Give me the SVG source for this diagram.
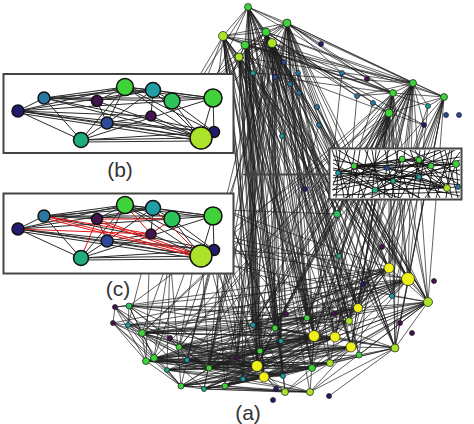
<svg xmlns="http://www.w3.org/2000/svg" width="474" height="424" viewBox="0 0 474 424">
<defs>
<style>
.e{fill:none;stroke:#1e1e1e;stroke-width:.7}
.pe{fill:none;stroke:#2a2a2a;stroke-width:1}
.re{fill:none;stroke:#e01818;stroke-width:1}
.ie{fill:none;stroke:#111;stroke-width:.9}
.n{stroke:#1a1a1a;stroke-width:.7}
.pn{stroke:#111;stroke-width:1.5}
.Y{fill:#eef21a}.YG{fill:#abe22a}.G{fill:#40d23a}.G2{fill:#2cc45a}.TG{fill:#1fac7e}.T{fill:#1f9ea6}.TB{fill:#2a78a0}.B{fill:#2c4a98}.N{fill:#211d6c}.P{fill:#45134f}
.frame{fill:#fff;stroke:#444;stroke-width:2}
.lbl{font-family:"Liberation Sans",Arial,sans-serif;font-size:21px;fill:#333;text-anchor:middle}
</style>
<clipPath id="ic"><rect x="331" y="150" width="129" height="48"/></clipPath>
</defs>
<rect width="474" height="424" fill="#fff"/>
<g id="connectors">
<path class="e" d="M248 7L223 36M248 7L266 32M248 7L287 23M248 7L245 45M248 7L272 43M223 36L266 32M223 36L287 23M223 36L245 45M223 36L272 43M223 36L239 57M266 32L287 23M266 32L245 45M266 32L272 43M266 32L239 57M287 23L272 43M287 23L245 45M287 23L239 57M245 45L272 43M245 45L239 57M272 43L239 57"/>
<path class="e" d="M248 7L190 95M248 7L205 100M223 36L185 100M223 36L200 95M223 36L215 110M239 57L195 95M245 45L215 110M266 32L205 100M272 43L225 90M287 23L200 100M239 57L225 95M223 36L228 95M245 45L190 100M266 32L185 110"/>
<path class="e" d="M287 23L321 44M287 23L413 83M287 23L393 93M266 32L413 83M272 43L393 93M266 32L389 113M245 45L413 83M223 36L393 93M272 43L444 97M287 23L444 97M239 57L389 113M245 45L342 73M272 43L357 96M287 23L367 79M266 32L373 103M223 36L428 106M272 43L424 125M248 7L413 83M248 7L393 93M239 57L253 73M245 45L284 62M272 43L298 73M266 32L275 77M287 23L290 84M272 43L299 93M287 23L317 107M266 32L319 125M245 45L282 136M223 36L282 136M223 36L253 73M248 7L284 62M287 23L342 73M266 32L357 96M253 73L413 83M275 77L393 93M239 57L413 83M245 45L393 93M223 36L413 83M266 32L444 97"/>
<path class="e" d="M248 7L253 325M248 7L275 328M248 7L307 318M248 7L314 336M248 7L257 366M248 7L358 308M248 7L389 268M248 7L351 347M248 7L285 392M248 7L312 368M248 7L337 214M248 7L339 256M248 7L408 279M248 7L260 351M248 7L428 302M248 7L395 348M248 7L237 358"/>
<path class="e" d="M223 36L253 325M223 36L286 314M223 36L281 341M223 36L257 366M223 36L283 376M223 36L314 336M223 36L260 351M223 36L307 318M223 36L389 268M223 36L330 363M223 36L264 377M223 36L337 214M223 36L305 189M223 36L275 328M223 36L408 279M223 36L358 308"/>
<path class="e" d="M266 32L275 328M266 32L286 314M266 32L307 318M266 32L314 336M266 32L335 337M266 32L349 321M266 32L358 308M266 32L334 314M266 32L363 284M266 32L408 279M266 32L392 296M266 32L428 302M266 32L257 366M266 32L283 376M266 32L339 256M266 32L237 358M266 32L209 368M266 32L181 386M266 32L243 379M266 32L395 348"/>
<path class="e" d="M287 23L307 318M287 23L314 336M287 23L335 337M287 23L351 347M287 23L359 355M287 23L349 321M287 23L358 308M287 23L389 268M287 23L408 279M287 23L428 302M287 23L395 348M287 23L330 363M287 23L312 368M287 23L281 341M287 23L253 325M287 23L209 368M287 23L179 347M287 23L237 358M287 23L225 386M287 23L392 296"/>
<path class="e" d="M245 45L253 325M245 45L275 328M245 45L281 341M245 45L260 351M245 45L257 366M245 45L264 377M245 45L283 376M245 45L314 336M245 45L307 318M245 45L312 368M245 45L310 392M245 45L389 268M245 45L339 256M245 45L285 392M245 45L408 279M245 45L358 308M245 45L395 348M245 45L351 347"/>
<path class="e" d="M272 43L275 328M272 43L286 314M272 43L307 318M272 43L314 336M272 43L335 337M272 43L351 347M272 43L349 321M272 43L358 308M272 43L389 268M272 43L408 279M272 43L392 296M272 43L428 302M272 43L359 355M272 43L281 341M272 43L337 214M272 43L187 360M272 43L237 358M272 43L204 389M272 43L395 348"/>
<path class="e" d="M239 57L253 325M239 57L260 351M239 57L257 366M239 57L243 379M239 57L281 341M239 57L314 336M239 57L307 318M239 57L312 368M239 57L264 377M239 57L275 328M239 57L283 376M239 57L335 337M239 57L358 308M239 57L389 268M239 57L349 321M239 57L428 302"/>
<path class="e" d="M253 73L253 325M253 73L257 366M253 73L314 336M284 62L307 318M284 62L358 308M298 73L389 268M298 73L408 279M275 77L275 328M275 77L351 347M290 84L349 321M299 93L314 336M317 107L408 279M317 107L428 302M319 125L395 348M282 136L257 366M342 73L314 336M357 96L335 337M373 103L307 318M319 125L260 351M282 136L389 268"/>
<path class="e" d="M413 83L393 93M413 83L444 97M413 83L389 113M393 93L389 113M444 97L389 113M393 93L444 97M413 83L428 106M444 97L428 106M389 113L373 103M393 93L357 96M389 113L424 125M413 83L424 125M393 93L342 73M413 83L357 96"/>
<path class="e" d="M413 83L389 268M413 83L408 279M413 83L428 302M413 83L358 308M413 83L395 348M413 83L349 321M413 83L314 336M413 83L351 347M413 83L307 318M413 83L392 296M413 83L337 214M413 83L339 256M413 83L335 337M413 83L179 347M413 83L187 360M413 83L253 325M413 83L260 351M413 83L275 328M413 83L142 333"/>
<path class="e" d="M393 93L389 268M393 93L408 279M393 93L358 308M393 93L349 321M393 93L314 336M393 93L307 318M393 93L351 347M393 93L395 348M393 93L428 302M393 93L275 328M393 93L335 337M393 93L359 355M393 93L142 333M393 93L215 250M393 93L253 325M393 93L257 366M393 93L179 347"/>
<path class="e" d="M444 97L428 302M444 97L408 279M444 97L395 348M444 97L389 268M444 97L392 296M444 97L358 308M444 97L400 323M444 97L314 336M444 97L351 347M444 97L349 321M444 97L209 368M424 125L389 268M428 106L408 279M428 106L358 308M424 125L349 321"/>
<path class="e" d="M389 113L389 268M389 113L408 279M389 113L358 308M389 113L314 336M389 113L307 318M389 113L351 347M389 113L349 321M389 113L395 348M389 113L335 337M389 113L428 302M389 113L257 366M389 113L275 328M389 113L337 214M389 113L339 256M389 113L312 368M389 113L129 306M389 113L154 358M389 113L209 368M389 113L253 325M389 113L237 358"/>
<path class="e" d="M200 230L179 347M200 230L209 368M200 230L237 358M200 230L257 366M215 250L187 360M215 250L260 351M215 250L243 379M215 250L225 386M170 255L142 333M170 255L154 358M170 255L167 370M170 255L181 386M225 210L253 325M225 210L275 328M225 210L209 368M150 240L128 325M150 240L146 361M230 265L237 358M230 265L264 377M230 265L204 389M215 250L257 366M200 230L154 358M225 210L281 341M230 265L283 376M215 250L408 279M225 210L389 268M230 265L428 302M200 230L363 284M225 210L337 214M215 250L339 256M230 265L358 308M225 210L392 296M200 230L408 279M220 240L349 321M210 220L314 336"/>
<path class="e" d="M408 279L129 306M408 279L128 325M408 279L142 333M408 279L253 325M408 279L275 328M408 279L286 314M408 279L307 318M408 279L260 351M408 279L314 336M408 279L351 347M408 279L312 368M408 279L428 302M408 279L395 348M408 279L358 308M408 279L392 296M408 279L349 321M408 279L154 358M408 279L209 368"/>
<path class="e" d="M389 268L115 307M389 268L113 323M389 268L142 333M389 268L179 347M389 268L253 325M389 268L286 314M389 268L307 318M389 268L314 336M389 268L335 337M389 268L358 308M389 268L334 314M389 268L260 351M389 268L281 341M389 268L187 360M389 268L349 321M389 268L428 302M389 268L392 296"/>
<path class="e" d="M428 302L359 355M428 302L351 347M428 302L395 348M428 302L312 368M428 302L314 336M428 302L335 337M428 302L330 363M428 302L310 392M428 302L307 318M428 302L275 328M428 302L257 366M428 302L392 296M428 302L358 308M428 302L264 377"/>
<path class="e" d="M358 308L253 325M358 308L275 328M358 308L307 318M358 308L179 347M358 308L187 360M358 308L209 368M358 308L142 333M358 308L314 336M358 308L129 306"/>
<path class="e" d="M314 336L142 333M314 336L179 347M314 336L146 361M314 336L154 358M314 336L187 360M314 336L167 370M314 336L209 368M314 336L237 358M314 336L253 325M314 336L275 328M314 336L281 341M314 336L260 351M314 336L257 366M314 336L264 377M314 336L243 379M314 336L181 386M314 336L204 389M314 336L225 386M314 336L312 368M314 336L310 392M314 336L283 376M314 336L128 325"/>
<path class="e" d="M335 337L179 347M335 337L154 358M335 337L209 368M335 337L253 325M335 337L260 351M335 337L257 366M335 337L264 377M335 337L243 379M335 337L225 386M335 337L204 389M335 337L330 363M335 337L142 333"/>
<path class="e" d="M351 347L146 361M351 347L187 360M351 347L209 368M351 347L281 341M351 347L257 366M351 347L264 377M351 347L181 386M351 347L225 386M351 347L312 368M351 347L310 392M351 347L330 363M351 347L167 370"/>
<path class="e" d="M257 366L129 306M257 366L128 325M257 366L142 333M257 366L179 347M257 366L146 361M257 366L154 358M257 366L187 360M257 366L167 370M257 366L209 368M257 366L237 358M257 366L181 386M257 366L204 389M257 366L225 386M257 366L243 379M257 366L285 392M257 366L276 389M257 366L275 328M257 366L260 351"/>
<path class="e" d="M264 377L142 333M264 377L146 361M264 377L154 358M264 377L187 360M264 377L167 370M264 377L209 368M264 377L181 386M264 377L204 389M264 377L225 386M264 377L285 392M264 377L310 392M264 377L312 368"/>
<path class="e" d="M395 348L351 347M395 348L359 355M395 348L330 363M395 348L312 368M395 348L310 392M395 348L329 396M395 348L335 337M395 348L314 336M395 348L307 318M395 348L275 328M349 321L142 333M349 321L154 358M349 321L209 368M349 321L253 325M349 321L257 366M349 321L264 377M349 321L307 318M349 321L314 336M307 318L129 306M307 318L128 325M307 318L179 347M307 318L154 358M307 318L209 368M307 318L253 325"/>
<path class="e" d="M312 368L181 386M312 368L204 389M312 368L225 386M312 368L285 392M312 368L146 361M312 368L167 370M310 392L204 389M310 392L225 386M310 392L285 392M310 392L181 386M310 392L167 370M330 363L181 386M330 363L243 379M330 363L167 370M330 363L146 361M359 355L204 389M359 355L225 386M359 355L146 361"/>
<path class="e" d="M115 307L129 306M115 307L113 323M115 307L146 361M129 306L128 325M129 306L142 333M113 323L128 325M113 323L146 361M113 323L154 358M128 325L142 333M142 333L146 361M142 333L154 358M142 333L179 347M146 361L154 358M146 361L181 386M154 358L181 386M154 358L167 370M167 370L181 386M181 386L204 389M204 389L225 386M225 386L243 379M146 361L209 368M154 358L209 368M179 347L209 368M187 360L209 368M179 347L187 360M129 306L179 347M115 307L181 386M113 323L181 386M115 307L204 389"/>
<path class="e" d="M142 333L253 325M142 333L275 328M146 361L257 366M154 358L243 379M179 347L253 325M179 347L260 351M187 360L257 366M167 370L243 379M181 386L243 379M204 389L264 377M209 368L260 351M209 368L281 341M237 358L281 341M237 358L314 336M237 358L335 337M243 379L283 376M253 325L286 314M253 325L281 341M260 351L283 376M260 351L314 336M275 328L314 336M281 341L335 337M283 376L330 363M285 392L330 363M129 306L253 325M128 325L260 351M113 323L209 368M115 307L179 347M129 306L209 368M142 333L237 358M146 361L237 358M154 358L260 351M167 370L260 351M181 386L257 366M204 389L257 366M179 347L283 376M187 360L283 376M209 368L283 376M209 368L312 368M187 360L312 368M179 347L312 368M154 358L312 368M142 333L307 318M129 306L286 314M128 325L286 314M146 361L275 328M167 370L275 328M181 386L275 328M204 389L281 341M225 386L281 341M225 386L312 368M243 379L312 368M237 358L312 368M253 325L312 368M142 333L335 337M154 358L351 347M179 347L351 347M209 368L351 347M187 360L335 337M167 370L330 363M146 361L330 363M181 386L310 392M204 389L285 392M225 386L285 392M243 379L310 392M113 323L142 333M128 325L154 358M129 306L154 358M115 307L142 333M181 386L209 368M167 370L209 368M142 333L187 360M142 333L209 368"/>
</g>
<g id="main-nodes" class="n">
<g id="t1"><circle class="G" cx="248" cy="7" r="3.5"/></g>
<g id="t2"><circle class="YG" cx="223" cy="36" r="4.5"/></g>
<g id="t3"><circle class="G" cx="266" cy="32" r="4"/></g>
<g id="t4"><circle class="G" cx="287" cy="23" r="4"/></g>
<g id="t5"><circle class="G" cx="245" cy="45" r="4"/></g>
<g id="t6"><circle class="YG" cx="272" cy="43" r="4.5"/></g>
<g id="t7"><circle class="YG" cx="239" cy="57" r="4"/></g>
<g id="m1"><circle class="T" cx="253" cy="73" r="2.5"/></g>
<g id="m2"><circle class="B" cx="284" cy="62" r="2.5"/></g>
<g id="m3"><circle class="TB" cx="298" cy="73" r="2.5"/></g>
<g id="m4"><circle class="B" cx="275" cy="77" r="2.5"/></g>
<g id="m5"><circle class="TB" cx="290" cy="84" r="2.5"/></g>
<g id="m6"><circle class="TB" cx="299" cy="93" r="2.5"/></g>
<g id="m7"><circle class="TB" cx="317" cy="107" r="2.5"/></g>
<g id="m8"><circle class="TB" cx="319" cy="125" r="2.5"/></g>
<g id="m9"><circle class="T" cx="282" cy="136" r="2.5"/></g>
<g id="m10"><circle class="N" cx="321" cy="44" r="2.5"/></g>
<g id="m11"><circle class="TB" cx="342" cy="73" r="2.5"/></g>
<g id="m12"><circle class="P" cx="367" cy="79" r="2.5"/></g>
<g id="m13"><circle class="TB" cx="357" cy="96" r="2.5"/></g>
<g id="m14"><circle class="TB" cx="373" cy="103" r="2.5"/></g>
<g id="m15"><circle class="T" cx="428" cy="106" r="2.5"/></g>
<g id="m16"><circle class="B" cx="446" cy="115" r="2.5"/></g>
<g id="m17"><circle class="B" cx="459" cy="115" r="2.5"/></g>
<g id="m18"><circle class="N" cx="424" cy="125" r="2.5"/></g>
<g id="r1"><circle class="G" cx="413" cy="83" r="3.5"/></g>
<g id="r2"><circle class="G" cx="393" cy="93" r="3.5"/></g>
<g id="r3"><circle class="G" cx="444" cy="97" r="3.5"/></g>
<g id="r4"><circle class="G" cx="389" cy="113" r="4"/></g>
<g id="b1"><circle class="P" cx="115" cy="307" r="2.5"/></g>
<g id="b2"><circle class="G2" cx="129" cy="306" r="3"/></g>
<g id="b3"><circle class="P" cx="113" cy="323" r="2.5"/></g>
<g id="b4"><circle class="T" cx="128" cy="325" r="2.5"/></g>
<g id="b5"><circle class="G" cx="142" cy="333" r="3.5"/></g>
<g id="b6"><circle class="P" cx="170" cy="338" r="2.5"/></g>
<g id="b7"><circle class="G" cx="179" cy="347" r="3"/></g>
<g id="b8"><circle class="G" cx="146" cy="361" r="3.5"/></g>
<g id="b9"><circle class="G" cx="154" cy="358" r="3.5"/></g>
<g id="b10"><circle class="T" cx="187" cy="360" r="2.5"/></g>
<g id="b11"><circle class="TG" cx="167" cy="370" r="2.5"/></g>
<g id="b12"><circle class="G" cx="209" cy="368" r="3"/></g>
<g id="b13"><circle class="P" cx="237" cy="358" r="2.5"/></g>
<g id="b14"><circle class="T" cx="253" cy="325" r="2.5"/></g>
<g id="b15"><circle class="G" cx="275" cy="328" r="3"/></g>
<g id="b16"><circle class="P" cx="286" cy="314" r="2.5"/></g>
<g id="b17"><circle class="T" cx="281" cy="341" r="2.5"/></g>
<g id="b18"><circle class="G" cx="260" cy="351" r="3"/></g>
<g id="b19"><circle class="Y" cx="257" cy="366" r="5.5"/></g>
<g id="b20"><circle class="Y" cx="264" cy="377" r="5"/></g>
<g id="b21"><circle class="T" cx="243" cy="379" r="2.5"/></g>
<g id="b22"><circle class="T" cx="283" cy="376" r="2.5"/></g>
<g id="b23"><circle class="G" cx="181" cy="386" r="3"/></g>
<g id="b24"><circle class="TG" cx="204" cy="389" r="2.5"/></g>
<g id="b25"><circle class="G" cx="225" cy="386" r="3"/></g>
<g id="b26"><circle class="YG" cx="285" cy="392" r="3.5"/></g>
<g id="b27"><circle class="N" cx="276" cy="389" r="2.5"/></g>
<g id="b28"><circle class="N" cx="273" cy="400" r="2.5"/></g>
<g id="b29"><circle class="G" cx="307" cy="318" r="3"/></g>
<g id="b31"><circle class="Y" cx="314" cy="336" r="5.5"/></g>
<g id="b32"><circle class="Y" cx="335" cy="337" r="5"/></g>
<g id="b33"><circle class="Y" cx="351" cy="347" r="5"/></g>
<g id="b34"><circle class="G" cx="359" cy="355" r="3"/></g>
<g id="b35"><circle class="YG" cx="330" cy="363" r="3.5"/></g>
<g id="b36"><circle class="G" cx="312" cy="368" r="3.5"/></g>
<g id="b37"><circle class="YG" cx="310" cy="392" r="3.5"/></g>
<g id="b38"><circle class="N" cx="329" cy="396" r="2.5"/></g>
<g id="b39"><circle class="YG" cx="349" cy="321" r="3.5"/></g>
<g id="b40"><circle class="Y" cx="358" cy="308" r="4.5"/></g>
<g id="b41"><circle class="P" cx="334" cy="314" r="2.5"/></g>
<g id="b42"><circle class="N" cx="363" cy="284" r="2.5"/></g>
<g id="b43"><circle class="Y" cx="389" cy="268" r="5"/></g>
<g id="b44"><circle class="Y" cx="408" cy="279" r="6.5"/></g>
<g id="b45"><circle class="P" cx="434" cy="281" r="2.5"/></g>
<g id="b46"><circle class="T" cx="392" cy="296" r="2.5"/></g>
<g id="b47"><circle class="YG" cx="428" cy="302" r="4.5"/></g>
<g id="b48"><circle class="P" cx="400" cy="323" r="2.5"/></g>
<g id="b49"><circle class="P" cx="412" cy="333" r="2.5"/></g>
<g id="b50"><circle class="YG" cx="395" cy="348" r="4"/></g>
<g id="b51"><circle class="P" cx="382" cy="247" r="2.5"/></g>
<g id="b52"><circle class="TG" cx="339" cy="256" r="2.5"/></g>
<g id="b53"><circle class="G2" cx="337" cy="214" r="3.5"/></g>
<g id="b54"><circle class="N" cx="305" cy="189" r="2.5"/></g>
</g>
<g id="panel-b">
<rect class="frame" x="3.5" y="74" width="230" height="79"/>
<path class="pe" d="M18 111L44 98M18 111L81 140M18 111L125 87M18 111L107 123M18 111L201 138M18 113L201 141M18 111L172 101M18 111L151 116M18 111L214 132M18 111L153 90M44 98L125 87M44 100L125 89M44 98L153 90M44 98L172 101M44 98L213 98M44 98L201 138M44 98L81 140M44 98L97 101M44 98L214 132M97 101L125 87M97 101L201 138M97 101L107 123M97 101L153 90M125 87L153 90M125 87L172 101M125 87L213 98M127 89L213 100M125 87L201 138M125 87L81 140M125 87L107 123M125 87L214 132M153 90L172 101M153 90L213 98M153 90L201 138M153 90L107 123M153 90L151 116M172 101L213 98M172 101L201 138M172 101L214 132M213 98L201 138M213 98L214 132M151 116L201 138M151 116L107 123M107 123L201 138M107 123L81 140M107 123L214 132M81 140L201 138M81 142L201 141M81 140L214 132M81 140L213 98"/>
<g class="pn">
<g id="b-n1"><circle class="N" cx="18" cy="111" r="6"/></g>
<g id="b-n2"><circle class="TB" cx="44" cy="98" r="6"/></g>
<g id="b-n3"><circle class="P" cx="97" cy="101" r="5.5"/></g>
<g id="b-n4"><circle class="G" cx="125" cy="87" r="8.5"/></g>
<g id="b-n5"><circle class="T" cx="153" cy="90" r="7.5"/></g>
<g id="b-n6"><circle class="G2" cx="172" cy="101" r="8"/></g>
<g id="b-n7"><circle class="G" cx="213" cy="98" r="9"/></g>
<g id="b-n8"><circle class="P" cx="151" cy="116" r="5"/></g>
<g id="b-n9"><circle class="B" cx="107" cy="123" r="6"/></g>
<g id="b-n10"><circle class="TG" cx="81" cy="140" r="7.5"/></g>
<g id="b-n11"><circle class="N" cx="214" cy="132" r="5.5"/></g>
<g id="b-n12"><circle class="YG" cx="201" cy="138" r="11"/></g>
</g>
</g>
<g id="panel-c">
<rect class="frame" x="3.5" y="193.5" width="230" height="80"/>
<path class="pe" d="M18 229L44 216M18 229L81 258M18 229L125 205M18 229L107 241M18 229L201 256M18 231L201 259M18 229L172 219M18 229L214 250M18 229L153 208M44 216L125 205M44 218L125 207M44 216L153 208M44 216L172 219M44 216L213 216M44 216L81 258M44 216L97 219M44 216L214 250M97 219L125 205M97 219L107 241M97 219L153 208M125 205L153 208M125 205L172 219M125 205L213 216M127 207L213 218M125 205L201 256M125 205L81 258M125 205L107 241M125 205L214 250M153 208L172 219M153 208L213 216M153 208L107 241M153 208L151 234M172 219L213 216M172 219L201 256M172 219L214 250M213 216L201 256M213 216L214 250M151 234L201 256M151 234L107 241M107 241L201 256M107 241L81 258M107 241L214 250M81 258L201 256M81 260L201 259M81 258L214 250M81 258L213 216"/>
<path class="re" d="M18 229L151 234M44 216L201 256M44 218L201 258M97 219L201 256M97 221L201 258M97 219L172 219M97 219L81 258M125 205L151 234M44 216L151 234M153 208L201 256M151 234L172 219"/>
<g class="pn">
<g id="c-n1"><circle class="N" cx="18" cy="229" r="6"/></g>
<g id="c-n2"><circle class="TB" cx="44" cy="216" r="6"/></g>
<g id="c-n3"><circle class="P" cx="97" cy="219" r="5.5"/></g>
<g id="c-n4"><circle class="G" cx="125" cy="205" r="8.5"/></g>
<g id="c-n5"><circle class="T" cx="153" cy="208" r="7.5"/></g>
<g id="c-n6"><circle class="G2" cx="172" cy="219" r="8"/></g>
<g id="c-n7"><circle class="G" cx="213" cy="216" r="9"/></g>
<g id="c-n8"><circle class="P" cx="151" cy="234" r="5"/></g>
<g id="c-n9"><circle class="B" cx="107" cy="241" r="6"/></g>
<g id="c-n10"><circle class="TG" cx="81" cy="258" r="7.5"/></g>
<g id="c-n11"><circle class="N" cx="214" cy="250" r="5.5"/></g>
<g id="c-n12"><circle class="YG" cx="201" cy="256" r="11"/></g>
</g>
</g>
<g id="inset">
<rect class="frame" x="329.5" y="148.5" width="132" height="51"/>
<g clip-path="url(#ic)">
<path class="ie" d="M338 173L354 166M338 173L402 159M338 173L419 177M338 173L447 188M338 173L375 190M354 166L402 159M354 166L419 160M354 166L431 166M354 166L456 164M354 166L393 181M354 166L447 188M354 166L375 190M354 166L387 168M402 159L419 160M402 159L431 166M402 159L447 188M402 159L375 190M402 159L393 181M419 160L456 164M419 160L447 188M431 166L456 164M431 166L447 188M431 166L375 190M456 164L447 188M456 164L458 187M393 181L447 188M419 177L447 188M375 190L447 188M375 190L458 187M375 190L419 160M387 168L456 164M387 168L447 188"/>
<path class="ie" d="M332 150L350 198M340 150L336 198M345 150L365 198M360 150L352 198M365 150L390 198M372 150L380 198M380 150L362 198M395 150L410 198M405 150L398 198M415 150L440 198M425 150L418 198M440 150L452 198M450 150L436 198M333 160L460 180M333 185L460 170M333 195L460 192M333 168L460 196M333 178L460 157M348 150L333 185M390 150L333 196M430 150L400 198M460 152L425 198M332 190L400 150M370 198L460 160M333 155L420 198M345 198L445 150M355 150L347 198M385 150L395 198M410 150L430 198M435 150L428 198M336 150L344 198M368 150L358 198M376 150L372 198M388 150L384 198M398 150L392 198M420 150L412 198M445 150L458 198M452 150L446 198M333 175L400 198M333 163L392 198M400 150L460 185M410 150L460 175M333 190L460 165M333 170L460 185M360 198L455 150M338 150L420 198M333 182L440 150"/>
</g>
<g class="n">
<g id="i1"><circle class="T" cx="338" cy="173" r="2.5"/></g>
<g id="i2"><circle class="G" cx="354" cy="166" r="3"/></g>
<g id="i3"><circle class="B" cx="387" cy="168" r="2.5"/></g>
<g id="i4"><circle class="G" cx="402" cy="159" r="3"/></g>
<g id="i5"><circle class="G" cx="419" cy="160" r="3"/></g>
<g id="i6"><circle class="G" cx="431" cy="166" r="3"/></g>
<g id="i7"><circle class="G" cx="456" cy="164" r="3.5"/></g>
<g id="i8"><circle class="TG" cx="393" cy="181" r="2.5"/></g>
<g id="i9"><circle class="T" cx="419" cy="177" r="2.5"/></g>
<g id="i10"><circle class="TG" cx="375" cy="190" r="3"/></g>
<g id="i11"><circle class="YG" cx="447" cy="188" r="3.5"/></g>
<g id="i12"><circle class="TB" cx="458" cy="187" r="2.5"/></g>
</g>
</g>
<g id="arrow">
<line x1="329" y1="174.5" x2="254" y2="174.5" stroke="#444" stroke-width="2"/>
<polygon points="242,174.5 256,169.5 256,179.5" fill="#444"/>
</g>
<text class="lbl" x="120" y="177">(b)</text>
<text class="lbl" x="118" y="296">(c)</text>
<text class="lbl" x="248" y="420">(a)</text>
</svg>
